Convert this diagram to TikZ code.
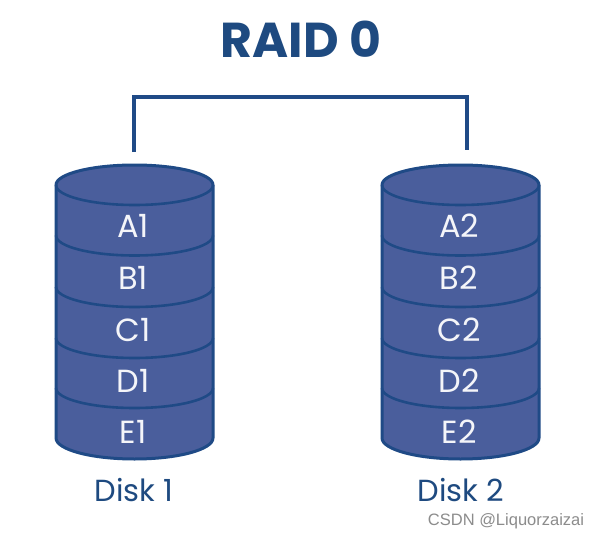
\documentclass[tikz,border=0pt]{standalone}
\usepackage{fontspec}
\setmainfont{Poppins}
\newfontfamily\wm{Liberation Sans}
\definecolor{diskfill}{HTML}{4A5E9C}
\definecolor{diskline}{HTML}{1F4A86}
\definecolor{titlec}{HTML}{1E4A80}
\tikzset{
  x=1pt,y=-1pt,
  body/.style={fill=diskfill,draw=diskline,line width=3pt,line join=round},
  sep/.style={draw=diskline,line width=2.6pt},
  cell/.style={text=white!94!diskfill,font=\fontsize{32}{36}\selectfont,inner sep=0pt,anchor=center},
  lab/.style={text=titlec,font=\fontsize{30.5}{34}\selectfont,inner sep=0pt,anchor=center},
  link/.style={draw=diskline,line width=3.2pt,line join=miter}
}
\newcommand{\diskdraw}[3]{%
  \path[body] (#1-78.5,185) -- (#1-78.5,438) arc[x radius=78.5,y radius=21,start angle=180,end angle=0] -- (#1+78.5,185) arc[x radius=78.5,y radius=20,start angle=0,end angle=-180] -- cycle;
  \path[sep] (#1-78.5,185) arc[x radius=78.5,y radius=20,start angle=180,end angle=0];
  \foreach \yy in {235.5,287,338,388}{
    \path[sep] (#1-78.5,\yy) arc[x radius=78.5,y radius=20,start angle=180,end angle=0];
  }
  \node[cell] (a#2) at (#1-1.5,226) {A#3};
  \node[cell] (b#2) at (#1-1.5,278) {B#3};
  \node[cell] (c#2) at (#1-1.5,330) {C#3};
  \node[cell] (d#2) at (#1-1.5,381) {D#3};
  \node[cell] (e#2) at (#1-1.5,432) {E#3};
}
\begin{document}
\begin{tikzpicture}
\useasboundingbox (0,0) rectangle (600,535);
\fill[white] (0,0) rectangle (600,535);
\diskdraw{134.5}{one}{1}
\diskdraw{460.5}{two}{2}
\node[inner sep=0pt,text=titlec,font=\fontsize{49}{54}\selectfont\bfseries] (title) at (301,39) {RAID 0};
\node[lab] (l1) at (134,490) {Disk 1};
\node[lab] (l2) at (461,490) {Disk 2};
\node[inner sep=0pt,text=black!45,font=\wm\fontsize{16.5}{18}\selectfont] (w) at (506,521) {CSDN @Liquorzaizai};
\coordinate (s) at (134,152);
\coordinate (t) at (467,150);
\coordinate (m1) at (134,97);
\coordinate (m2) at (467,97);
\draw[link] (s) -- (m1) -- (m2) -- (t);
\end{tikzpicture}
\end{document}
